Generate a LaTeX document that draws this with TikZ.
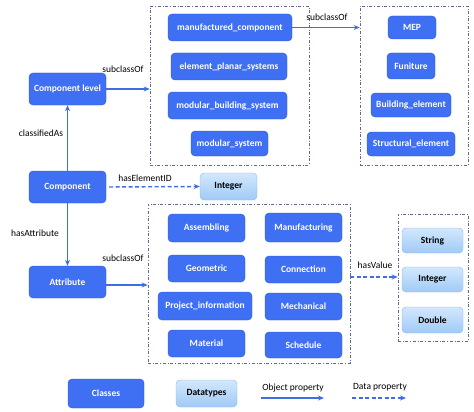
\documentclass[tikz,border=0pt]{standalone}
\usepackage{fontspec}
\setmainfont{Carlito}
\usepackage{tikz}
\usetikzlibrary{arrows.meta}

\definecolor{clsblue}{RGB}{63,111,242}
\definecolor{clsedge}{RGB}{45,90,215}
\definecolor{dtop}{RGB}{210,232,253}
\definecolor{dbot}{RGB}{160,202,246}
\definecolor{dedge}{RGB}{140,185,235}
\definecolor{arrblue}{RGB}{62,110,225}
\definecolor{grpedge}{RGB}{95,105,145}

\tikzset{
  cls/.style={draw=clsedge, fill=clsblue, rounded corners=4pt, text=white,
    font=\fontsize{9.5}{11}\selectfont\bfseries, inner sep=0pt},
  dtype/.style={draw=dedge, top color=dtop, bottom color=dbot, rounded corners=4pt,
    text=black, font=\fontsize{9.5}{11}\selectfont\bfseries, inner sep=0pt},
  grp/.style={draw=grpedge, dash dot, line width=0.6pt, inner sep=0pt},
  objprop/.style={line width=1.4pt, arrblue, -{Stealth[length=6pt,width=5pt]}},
  dataprop/.style={line width=1.4pt, arrblue, dash pattern=on 4pt off 2.5pt,
    -{Stealth[length=6pt,width=5pt]}},
  lbl/.style={font=\fontsize{9.5}{11}\selectfont, text=black, inner sep=0pt}
}

\begin{document}
\begin{tikzpicture}[x=1pt, y=-1pt]
  \useasboundingbox (0,0) rectangle (474,412);

  %% Group boxes
  \node[grp, minimum width=159pt, minimum height=159pt] (levelbox) at (229.5,85.5) {};
  \node[grp, minimum width=108pt, minimum height=159pt] (mfgbox) at (414,85.5) {};
  \node[grp, minimum width=202pt, minimum height=159pt] (attrbox) at (249,283.5) {};
  \node[grp, minimum width=70pt, minimum height=127pt] (valbox) at (433,277.5) {};

  %% Main classes
  \node[cls, minimum width=77pt, minimum height=32pt] (clevel) at (67.5,89) {Component level};
  \node[cls, minimum width=77pt, minimum height=32pt] (comp) at (67.5,187) {Component};
  \node[cls, minimum width=77pt, minimum height=32pt] (attr) at (67.5,282) {Attribute};
  \node[dtype, minimum width=57pt, minimum height=27pt] (elemid) at (228.5,186.5) {Integer};

  %% Component levels
  \node[cls, minimum width=124pt, minimum height=27pt] (mfg) at (230,27.5) {manufactured\_component};
  \node[cls, minimum width=116pt, minimum height=27pt] (eps) at (229,66.5) {element\_planar\_systems};
  \node[cls, minimum width=119pt, minimum height=27pt] (mbs) at (227.5,105.5) {modular\_building\_system};
  \node[cls, minimum width=77pt, minimum height=25pt] (msys) at (229.5,143.5) {modular\_system};

  %% Manufactured components
  \node[cls, minimum width=48pt, minimum height=23pt] (mep) at (412,27.5) {MEP};
  \node[cls, minimum width=48pt, minimum height=26pt] (funi) at (411,66) {Funiture};
  \node[cls, minimum width=80pt, minimum height=24pt] (bldg) at (411,105) {Building\_element};
  \node[cls, minimum width=88pt, minimum height=24pt] (struct) at (411,144) {Structural\_element};

  %% Attributes
  \node[cls, minimum width=77pt, minimum height=28pt] (assem) at (206.5,228) {Assembling};
  \node[cls, minimum width=77pt, minimum height=27pt] (geom) at (206.5,268.5) {Geometric};
  \node[cls, minimum width=94pt, minimum height=28pt] (proj) at (205,306) {Project\_information};
  \node[cls, minimum width=77pt, minimum height=27pt] (mater) at (206.5,343.5) {Material};
  \node[cls, minimum width=77pt, minimum height=29pt] (manuf) at (303.5,227.5) {Manufacturing};
  \node[cls, minimum width=77pt, minimum height=27pt] (conn) at (303.5,269.5) {Connection};
  \node[cls, minimum width=77pt, minimum height=27pt] (mech) at (303.5,306.5) {Mechanical};
  \node[cls, minimum width=77pt, minimum height=26pt] (sched) at (303.5,345) {Schedule};

  %% Values
  \node[dtype, minimum width=61pt, minimum height=25pt] (strv) at (432.5,240.5) {String};
  \node[dtype, minimum width=61pt, minimum height=25pt] (intv) at (432.5,279.5) {Integer};
  \node[dtype, minimum width=61pt, minimum height=26pt] (dblv) at (432.5,320) {Double};

  %% Properties
  \draw[objprop] (mfg.east) -- (mfg.east -| mfgbox.west);
  \node[lbl] (sub1) at (327,17) {subclassOf};
  \draw[objprop] (clevel.east) -- (clevel.east -| levelbox.west);
  \node[lbl] (sub2) at (123,69) {subclassOf};
  \draw[objprop] (comp.north) -- (clevel.south);
  \node[lbl] (cls1) at (41,133) {classifiedAs};
  \draw[dataprop, shorten <=3pt] (comp.east) -- (elemid.west);
  \node[lbl] (eid) at (145,178) {hasElementID};
  \draw[objprop] (comp.south) -- (attr.north);
  \node[lbl] (hatt) at (35,233) {hasAttribute};
  \draw[objprop] ([yshift=-3pt]attr.east) -- ([yshift=-3pt]attr.east -| attrbox.west);
  \node[lbl] (sub3) at (123,258) {subclassOf};
  \draw[dataprop] (attrbox.east |- 0,277) -- (valbox.west |- 0,277);
  \node[lbl] (hval) at (375,265) {hasValue};

  %% Legend
  \node[cls, minimum width=76pt, minimum height=29pt] (lgcls) at (106,393.5) {Classes};
  \node[dtype, minimum width=61pt, minimum height=27pt] (lgdt) at (206.5,393.5) {Datatypes};
  \node[lbl] (lgobj) at (293,388) {Object property};
  \coordinate (objA) at (261,398);
  \coordinate (objB) at (324,398);
  \draw[objprop] (objA) -- (objB);
  \node[lbl] (lgdata) at (380,387) {Data property};
  \coordinate (datA) at (352,398);
  \coordinate (datB) at (406,398);
  \draw[dataprop] (datA) -- (datB);

\end{tikzpicture}
\end{document}
